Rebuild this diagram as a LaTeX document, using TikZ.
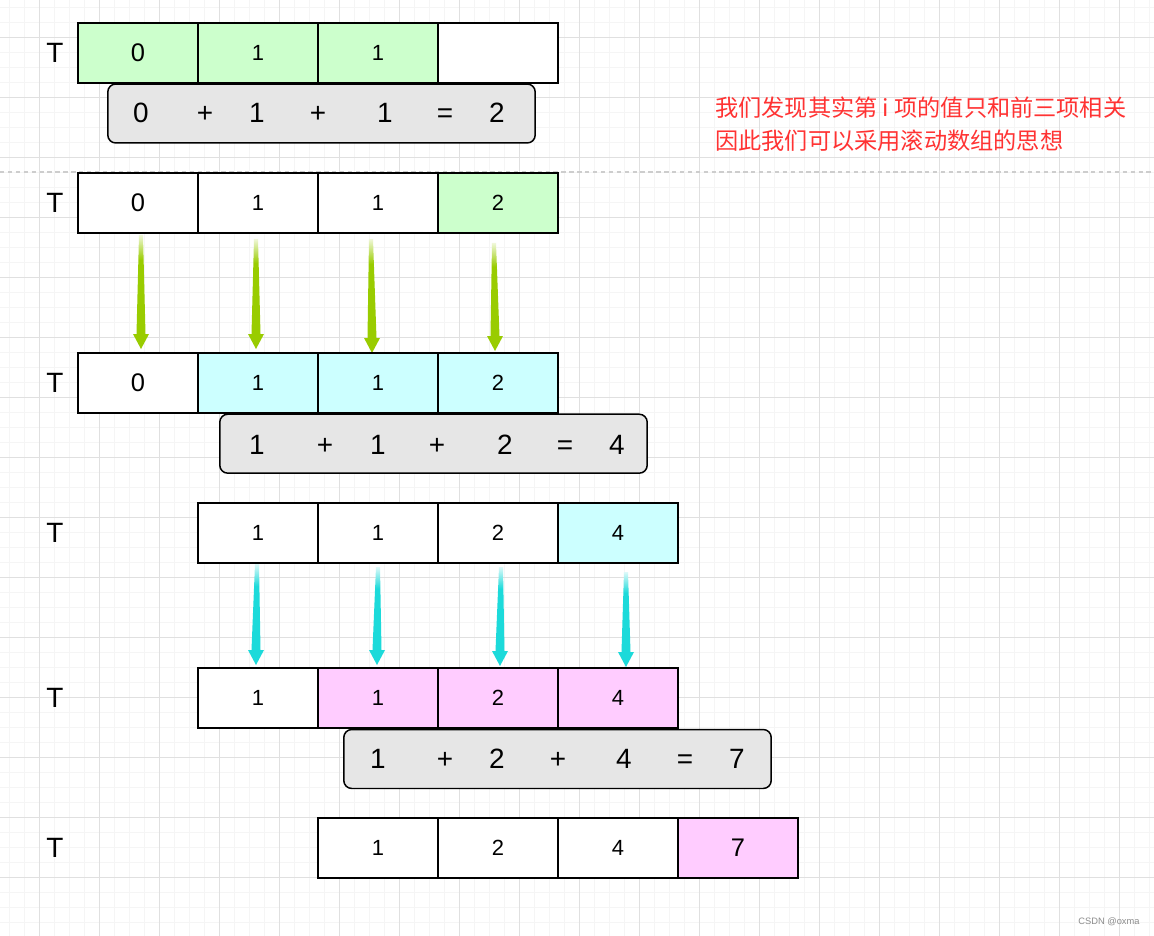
\documentclass[tikz,border=0pt]{standalone}
\usepackage{fontspec}
\setmainfont{Liberation Sans}
\newfontfamily\cjk{Noto Sans CJK SC}
\usetikzlibrary{calc}
\definecolor{cellgreen}{RGB}{204, 255, 204}
\definecolor{cellcyan}{RGB}{204, 255, 255}
\definecolor{cellpink}{RGB}{255, 204, 255}
\definecolor{sumgray}{RGB}{230, 230, 230}
\definecolor{arrowgreen}{RGB}{153, 204, 0}
\definecolor{arrowcyan}{RGB}{28, 218, 218}
\definecolor{notered}{RGB}{255, 51, 51}
\definecolor{gridlight}{RGB}{245, 245, 245}
\definecolor{gridmid}{RGB}{224, 224, 224}
\definecolor{seplinegray}{RGB}{205, 205, 205}
\pgfdeclareverticalshading{greenfade}{100bp}{color(0bp)=(arrowgreen); color(25bp)=(arrowgreen); color(64bp)=(arrowgreen); color(75bp)=(arrowgreen!15); color(100bp)=(arrowgreen!15)}
\pgfdeclareverticalshading{cyanfade}{100bp}{color(0bp)=(arrowcyan); color(25bp)=(arrowcyan); color(64bp)=(arrowcyan); color(75bp)=(arrowcyan!15); color(100bp)=(arrowcyan!15)}
\newcommand{\sumsize}{\fontsize{15.9}{18}\selectfont}
\newcommand{\cellbig}{\fontsize{14.5}{17}\selectfont}
\newcommand{\cellsmall}{\fontsize{12.5}{15}\selectfont}
% tapered arrow: top point, tip point, shading
\newcommand{\fatarrow}[3]{%
  \shade[shading=#3] ($(#1)+(-2,0)$) -- ($(#2)+(-4.5,-15)$) -- ($(#2)+(-8,-15)$) -- (#2)
    -- ($(#2)+(8,-15)$) -- ($(#2)+(4.5,-15)$) -- ($(#1)+(2,0)$) -- cycle;}

\begin{document}
\begin{tikzpicture}[x=0.02cm, y=-0.02cm,
    cell/.style={draw=black, line width=0.85pt, minimum width=2.4cm, minimum height=1.2cm,
      inner sep=0pt, outer sep=0pt},
    sumbox/.style={draw=black, line width=0.85pt, fill=sumgray, rounded corners=0.16cm,
      minimum width=8.55cm, minimum height=1.18cm, inner sep=0pt},
    sumtext/.style={font=\sumsize, inner sep=0pt, anchor=base},
    rowlabel/.style={font=\sumsize, inner sep=0pt},
    gridminor/.style={draw=gridlight, line width=0.8pt},
    gridmajor/.style={draw=gridmid, line width=0.6pt}]

    % Background grid
    \fill[white] (0,0) rectangle (1154,936);
    \useasboundingbox (0,0) rectangle (1154,936);
    \foreach \x in {9.3,24.3,...,1154} \draw[gridminor] (\x,0) -- (\x,936);
    \foreach \y in {7.3,22.3,...,936} \draw[gridminor] (0,\y) -- (1154,\y);
    \foreach \x in {39.3,99.3,...,1154} \draw[gridmajor] (\x,0) -- (\x,936);
    \foreach \y in {37.3,97.3,...,936} \draw[gridmajor] (0,\y) -- (1154,\y);
    \draw[seplinegray, line width=0.8pt, dash pattern=on 2.5pt off 2pt] (0,172) -- (1154,172);

    % Row labels
    \foreach \y [count=\k] in {53,203,383,533,698,848}
        \node (t\k) at (55,\y) [rowlabel] {T};

    % Row 1: first three terms
    \foreach \i/\c/\t/\f in {0/cellgreen/0/\cellbig, 1/cellgreen/1/\cellsmall, 2/cellgreen/1/\cellsmall, 3/white//\cellsmall}
        \node (a\i) at (138+120*\i,53) [cell, fill=\c, font=\f] {\t};
    \node (s1) at (321.5,113.5) [sumbox] {};
    \foreach \x/\t [count=\k] in {141/0, 205/+, 257/1, 318/+, 385/1, 445/=, 497/2}
        \node (s1t\k) at (\x,123) [sumtext] {\t};

    % Note
    \node (note) at (715,124.5) [anchor=west, align=left, text=notered, inner sep=0pt,
        font=\cjk\fontsize{13.2}{18.8}\selectfont] {我们发现其实第 i 项的值只和前三项相关\\因此我们可以采用滚动数组的思想};

    % Row 2
    \foreach \i/\c/\t/\f in {0/white/0/\cellbig, 1/white/1/\cellsmall, 2/white/1/\cellsmall, 3/cellgreen/2/\cellsmall}
        \node (b\i) at (138+120*\i,203) [cell, fill=\c, font=\f] {\t};
    \foreach \i/\xa/\ya/\xb/\yb in {0/141/235/141/349, 1/256/239/256/349, 2/371/239/372/353, 3/494/243/495/351} {
        \coordinate (ga\i) at (\xa,\ya);
        \coordinate (gb\i) at (\xb,\yb);
        \fatarrow{ga\i}{gb\i}{greenfade}
    }

    % Row 3
    \foreach \i/\c/\t/\f in {0/white/0/\cellbig, 1/cellcyan/1/\cellsmall, 2/cellcyan/1/\cellsmall, 3/cellcyan/2/\cellsmall}
        \node (c\i) at (138+120*\i,383) [cell, fill=\c, font=\f] {\t};
    \node (s2) at (433.5,443.7) [sumbox] {};
    \foreach \x/\t [count=\k] in {257/1, 325/+, 378/1, 437/+, 505/2, 565/=, 617/4}
        \node (s2t\k) at (\x,454.5) [sumtext] {\t};

    % Row 4
    \foreach \i/\c/\t/\f in {0/white/1/\cellsmall, 1/white/1/\cellsmall, 2/white/2/\cellsmall, 3/cellcyan/4/\cellsmall}
        \node (d\i) at (258+120*\i,533) [cell, fill=\c, font=\f] {\t};
    \foreach \i/\xa/\ya/\xb/\yb in {0/257/564/256/665, 1/378/567/377/665, 2/501/567/500/666, 3/626/572/626/667} {
        \coordinate (ca\i) at (\xa,\ya);
        \coordinate (cb\i) at (\xb,\yb);
        \fatarrow{ca\i}{cb\i}{cyanfade}
    }

    % Row 5
    \foreach \i/\c/\t/\f in {0/white/1/\cellsmall, 1/cellpink/1/\cellsmall, 2/cellpink/2/\cellsmall, 3/cellpink/4/\cellsmall}
        \node (e\i) at (258+120*\i,698) [cell, fill=\c, font=\f] {\t};
    \node (s3) at (557.5,759) [sumbox] {};
    \foreach \x/\t [count=\k] in {378/1, 445/+, 497/2, 558/+, 624/4, 685/=, 737/7}
        \node (s3t\k) at (\x,768.5) [sumtext] {\t};

    % Row 6
    \foreach \i/\c/\t/\f in {0/white/1/\cellsmall, 1/white/2/\cellsmall, 2/white/4/\cellsmall, 3/cellpink/7/\cellbig}
        \node (f\i) at (378+120*\i,848) [cell, fill=\c, font=\f] {\t};

    \node (mark) at (1109,922) [font=\fontsize{5.3}{6}\selectfont, text=black!45] {CSDN @oxma};
\end{tikzpicture}
\end{document}
